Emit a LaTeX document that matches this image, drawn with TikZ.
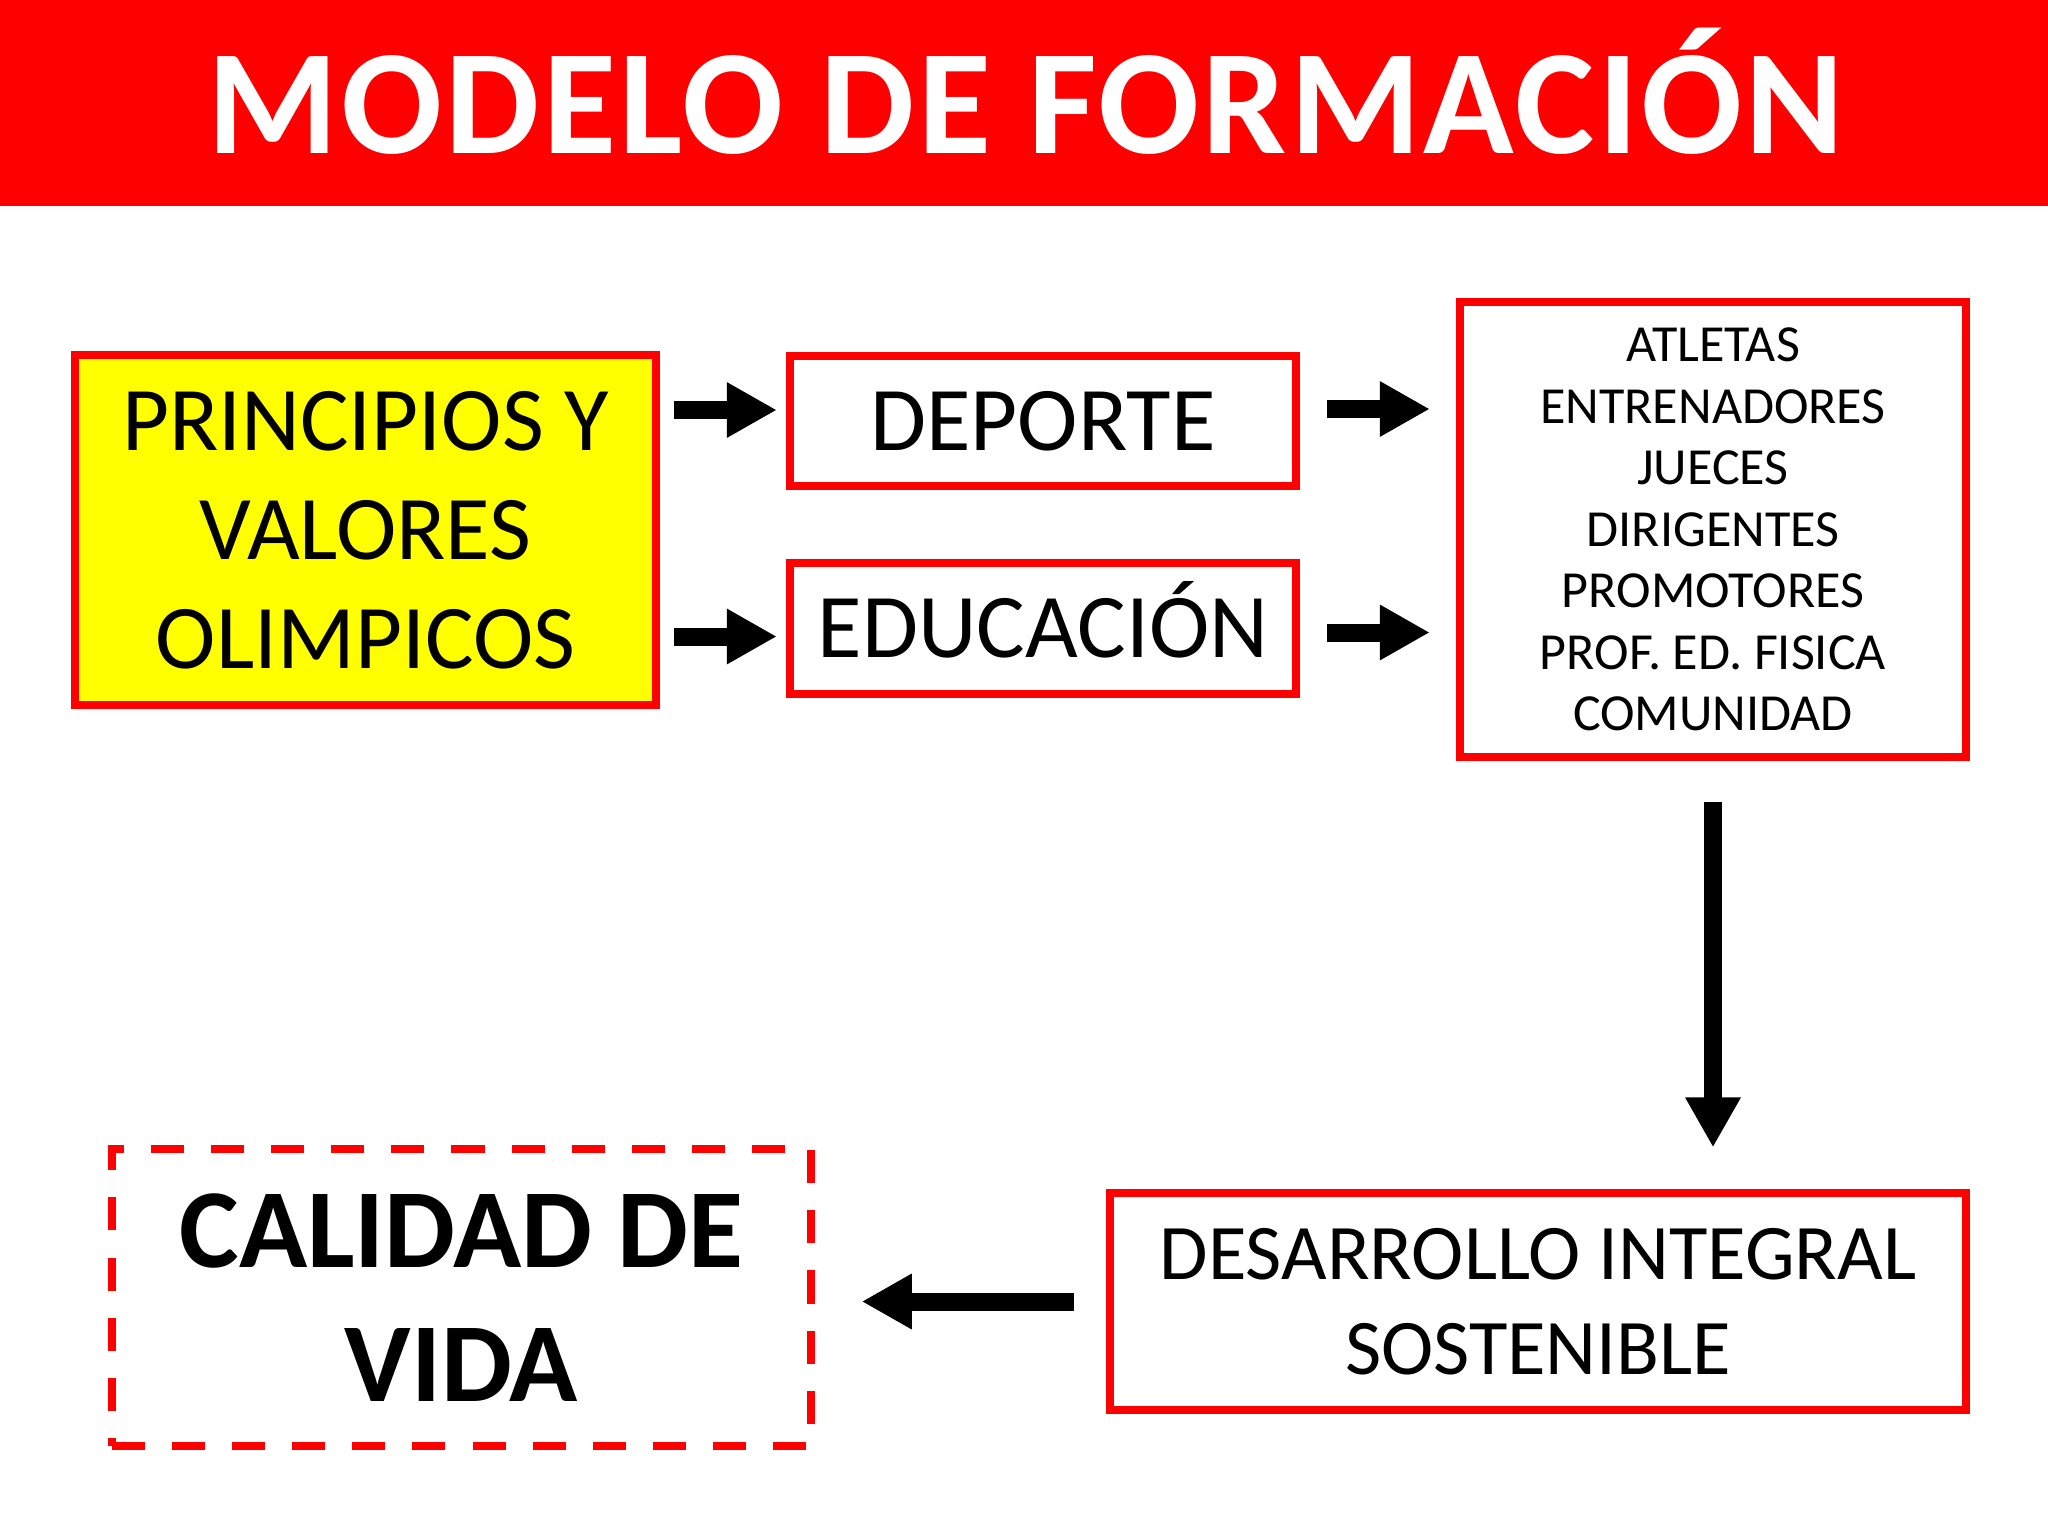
\documentclass[tikz,border=0pt]{standalone}
\usepackage{fontspec}
\setmainfont{Carlito}
\usetikzlibrary{arrows.meta,calc,positioning}
\definecolor{titlered}{HTML}{FF0000}
\definecolor{boxred}{HTML}{FF0000}
\definecolor{boxyellow}{HTML}{FFFF00}
\tikzset{
  redbox/.style={draw=boxred, line width=0.08cm, fill=white, align=center, inner sep=0pt, outer sep=0pt},
  yellowbox/.style={redbox, fill=boxyellow},
  dashbox/.style={draw=boxred, line width=0.08cm, dash pattern=on 0.33cm off 0.27cm, align=center, inner sep=0pt, outer sep=0pt},
  fatarrow/.style={black, line width=0.18cm, -{Triangle[length=0.5cm, width=0.52cm]}},
  bigfont/.style={font=\fontsize{25.9}{31}\selectfont},
  listfont/.style={font=\fontsize{14.8}{17.5}\selectfont},
  midfont/.style={font=\fontsize{22.4}{27}\selectfont},
  calfont/.style={font=\bfseries\fontsize{32}{38}\selectfont}
}

\begin{document}
\begin{tikzpicture}[x=0.01cm, y=-0.01cm]
  \useasboundingbox (0,0) rectangle (2048,1536);
  \fill[white] (0,0) rectangle (2048,1536);
  \fill[titlered] (0,0) rectangle (2048,206);
  \node[anchor=base, text=white, font=\bfseries\fontsize{42.5}{48}\selectfont\addfontfeature{LetterSpace=2.1}] (title) at (1026,153) {MODELO DE FORMACIÓN};

  \node[yellowbox, bigfont, minimum width=5.81cm, minimum height=3.50cm] (prin) at (365.5,530) {PRINCIPIOS Y\\VALORES\\OLIMPICOS};
  \node[redbox, bigfont, minimum width=5.06cm, minimum height=1.30cm] (dep) at (1043,421) {DEPORTE};
  \node[redbox, bigfont, minimum width=5.06cm, minimum height=1.30cm] (edu) at (1043,628.5) {\vphantom{D}\smash{EDUCACIÓN}};
  \node[redbox, listfont, minimum width=5.06cm, minimum height=4.55cm] (list) at (1713,529.5) {ATLETAS\\ENTRENADORES\\JUECES\\DIRIGENTES\\PROMOTORES\\PROF. ED. FISICA\\COMUNIDAD};
  \node[redbox, midfont, minimum width=8.56cm, minimum height=2.16cm] (des) at (1538,1301.5) {DESARROLLO INTEGRAL\\SOSTENIBLE};
  \node[dashbox, calfont, minimum width=6.98cm, minimum height=2.96cm] (cal) at (461.5,1297.5) {CALIDAD DE\\VIDA};

  \draw[fatarrow, shorten <=0.18cm, shorten >=0.13cm] ($(prin.east |- dep.west)+(0,-11)$) -- ($(dep.west)+(0,-11)$);
  \draw[fatarrow, shorten <=0.18cm, shorten >=0.13cm] ($(prin.east |- edu.west)+(0,8)$) -- ($(edu.west)+(0,8)$);
  \draw[fatarrow, shorten <=0.31cm, shorten >=0.30cm] ($(dep.east)+(0,-12)$) -- ($(list.west |- dep.east)+(0,-12)$);
  \draw[fatarrow, shorten <=0.31cm, shorten >=0.30cm] ($(edu.east)+(0,4)$) -- ($(list.west |- edu.east)+(0,4)$);
  \draw[fatarrow, shorten <=0.45cm, shorten >=0.46cm] (list.south) -- (list.south |- des.north);
  \draw[fatarrow, shorten <=0.36cm, shorten >=0.51cm] (des.west) -- (des.west -| cal.east);
\end{tikzpicture}
\end{document}
